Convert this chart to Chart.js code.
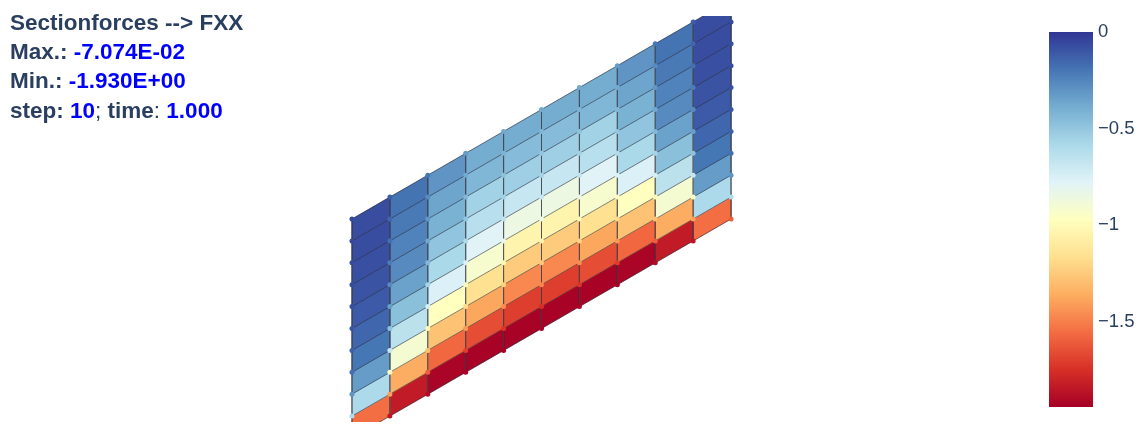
<!DOCTYPE html>
<html>
<head>
<meta charset="utf-8">
<title>Sectionforces FXX</title>
<script src="https://cdn.jsdelivr.net/npm/chart.js@4/dist/chart.umd.min.js"></script>
<style>
  html, body { margin: 0; padding: 0; background: #fff; overflow: hidden; }
  #wrap { position: relative; width: 1137px; height: 430px; }
  canvas { position: absolute; }
  #mesh { left: 0; top: 0; }
  #bar { left: 1040px; top: 16px; }
  #info {
    position: absolute; left: 10px; top: 8px;
    font: bold 22.5px/29.2px "Liberation Sans", Arial, sans-serif;
    color: #2a3f5f; white-space: nowrap;
  }
  #info span { color: #0000ff; }
  #info i { font-style: normal; font-weight: normal; }
</style>
</head>
<body>
<div id="wrap">
  <canvas id="mesh" width="1137" height="430"></canvas>
  <canvas id="bar" width="97" height="407"></canvas>
  <div id="info">
    Sectionforces --&gt; FXX<br>
    Max.: <span>-7.074E-02</span><br>
    Min.: <span>-1.930E+00</span><br>
    step: <span>10</span><i>;</i> time<i>:</i> <span>1.000</span>
  </div>
</div>
<script>
// mesh columns and rows (node numbers)
var columns = [0, 1, 2, 3, 4, 5, 6, 7, 8, 9, 10];
var rows = [0, 1, 2, 3, 4, 5, 6, 7, 8, 9, 10];

// FXX per cell, one array per cell column, top row first
var cellCol0 = [-0.07, -0.07, -0.08, -0.09, -0.11, -0.15, -0.20, -0.33, -0.59, -1.55];
var cellCol1 = [-0.19, -0.21, -0.24, -0.27, -0.35, -0.47, -0.64, -0.91, -1.36, -1.83];
var cellCol2 = [-0.30, -0.36, -0.41, -0.49, -0.58, -0.76, -0.97, -1.28, -1.57, -1.92];
var cellCol3 = [-0.39, -0.43, -0.55, -0.63, -0.78, -0.92, -1.16, -1.38, -1.65, -1.93];
var cellCol4 = [-0.39, -0.45, -0.54, -0.68, -0.85, -1.04, -1.25, -1.47, -1.70, -1.93];
var cellCol5 = [-0.39, -0.45, -0.54, -0.68, -0.85, -1.04, -1.25, -1.47, -1.70, -1.93];
var cellCol6 = [-0.39, -0.43, -0.55, -0.63, -0.78, -0.92, -1.16, -1.38, -1.65, -1.93];
var cellCol7 = [-0.30, -0.36, -0.41, -0.49, -0.58, -0.76, -0.97, -1.28, -1.57, -1.92];
var cellCol8 = [-0.19, -0.21, -0.24, -0.27, -0.35, -0.47, -0.64, -0.91, -1.36, -1.83];
var cellCol9 = [-0.07, -0.07, -0.08, -0.09, -0.11, -0.15, -0.20, -0.33, -0.59, -1.55];
var cellValues = [cellCol0, cellCol1, cellCol2, cellCol3, cellCol4, cellCol5, cellCol6, cellCol7, cellCol8, cellCol9];

// FXX per node, one array per node column, top row first
var nodeCol0 = [-0.06, -0.06, -0.07, -0.07, -0.08, -0.10, -0.13, -0.18, -0.30, -0.60, -1.60];
var nodeCol1 = [-0.12, -0.15, -0.18, -0.22, -0.27, -0.34, -0.48, -0.69, -0.95, -1.40, -1.85];
var nodeCol2 = [-0.20, -0.27, -0.31, -0.37, -0.44, -0.56, -0.74, -1.00, -1.28, -1.60, -1.90];
var nodeCol3 = [-0.33, -0.38, -0.43, -0.50, -0.60, -0.76, -0.95, -1.18, -1.42, -1.70, -1.93];
var nodeCol4 = [-0.37, -0.42, -0.48, -0.55, -0.66, -0.84, -1.02, -1.22, -1.46, -1.73, -1.93];
var nodeCol5 = [-0.38, -0.43, -0.50, -0.56, -0.68, -0.85, -1.05, -1.26, -1.48, -1.75, -1.93];
var nodeCol6 = [-0.37, -0.42, -0.48, -0.55, -0.66, -0.84, -1.02, -1.22, -1.46, -1.73, -1.93];
var nodeCol7 = [-0.33, -0.38, -0.43, -0.50, -0.60, -0.76, -0.95, -1.18, -1.42, -1.70, -1.93];
var nodeCol8 = [-0.20, -0.27, -0.31, -0.37, -0.44, -0.56, -0.74, -1.00, -1.28, -1.60, -1.90];
var nodeCol9 = [-0.12, -0.15, -0.18, -0.22, -0.27, -0.34, -0.48, -0.69, -0.95, -1.40, -1.85];
var nodeCol10 = [-0.06, -0.06, -0.07, -0.07, -0.08, -0.10, -0.13, -0.18, -0.30, -0.60, -1.60];
var nodeValues = [nodeCol0, nodeCol1, nodeCol2, nodeCol3, nodeCol4, nodeCol5, nodeCol6, nodeCol7, nodeCol8, nodeCol9, nodeCol10];

// colour bar
var colorMin = -1.94;
var colorMax = 0;
var barTicks = [0, -0.5, -1, -1.5];
var barTickLabels = ['0', '\u22120.5', '\u22121', '\u22121.5'];
var scaleColors = [
  [165, 0, 38], [215, 48, 39], [244, 109, 67], [253, 174, 97], [254, 224, 144], [255, 255, 191],
  [224, 243, 248], [171, 217, 233], [116, 173, 209], [69, 117, 180], [49, 54, 149]
];

function colorOf(value) {
  var t = (value - colorMin) / (colorMax - colorMin) * (scaleColors.length - 1);
  var i = Math.max(0, Math.min(scaleColors.length - 2, Math.floor(t)));
  var f = t - i;
  var a = scaleColors[i];
  var b = scaleColors[i + 1];
  return 'rgb(' + [0, 1, 2].map(function(k) {
    return Math.round(a[k] + (b[k] - a[k]) * f);
  }).join(',') + ')';
}

// the mesh is sheared: every column sits one row higher than the one before it
function node(col, row) {
  return { x: columns[col], y: columns[col] - rows[row] };
}

var datasets = [];

// grid lines along the rows carry the node markers
rows.forEach(function(row, r) {
  datasets.push({
    data: columns.map(function(col, c) { return node(c, r); }),
    showLine: true,
    borderColor: 'rgba(35,35,45,0.7)',
    borderWidth: 0.8,
    pointRadius: 2.5,
    pointBorderWidth: 0,
    pointBackgroundColor: columns.map(function(col, c) { return colorOf(nodeValues[c][r]); }),
    clip: 0,
    order: 1
  });
});

// grid lines along the columns
columns.forEach(function(col, c) {
  datasets.push({
    data: rows.map(function(row, r) { return node(c, r); }),
    showLine: true,
    borderColor: 'rgba(60,60,70,0.5)',
    borderWidth: 1,
    pointRadius: 0,
    clip: 0,
    order: 2
  });
});

// filled cells
cellValues.forEach(function(colValues, c) {
  colValues.forEach(function(value, r) {
    datasets.push({
      data: [node(c, r), node(c + 1, r), node(c + 1, r + 1), node(c, r + 1), node(c, r)],
      showLine: true,
      fill: 'shape',
      backgroundColor: colorOf(value),
      borderColor: colorOf(value),
      borderWidth: 0.5,
      pointRadius: 0,
      clip: 0,
      order: 3
    });
  });
});

new Chart(document.getElementById('mesh'), {
  type: 'scatter',
  data: { datasets: datasets },
  options: {
    responsive: false,
    animation: false,
    layout: { padding: { left: 333, right: 387, top: 16, bottom: 8 } },
    plugins: { legend: { display: false }, tooltip: { enabled: false } },
    scales: {
      x: { type: 'linear', display: false, min: -0.5, max: 10.5 },
      y: { type: 'linear', display: false, min: -9.27, max: 9.27 }
    }
  }
});

new Chart(document.getElementById('bar'), {
  type: 'bar',
  data: {
    labels: ['FXX'],
    datasets: [{
      data: [[colorMin, colorMax]],
      barPercentage: 1,
      categoryPercentage: 1,
      borderSkipped: false,
      backgroundColor: function(context) {
        var chart = context.chart;
        if (!chart.chartArea) return 'rgb(165,0,38)';
        var y = chart.scales.y;
        var grad = chart.ctx.createLinearGradient(0, y.getPixelForValue(colorMin), 0, y.getPixelForValue(colorMax));
        scaleColors.forEach(function(c, i) {
          grad.addColorStop(i / (scaleColors.length - 1), 'rgb(' + c.join(',') + ')');
        });
        return grad;
      }
    }]
  },
  options: {
    responsive: false,
    animation: false,
    layout: { padding: { left: 9, top: 0, bottom: 0, right: 0 } },
    plugins: { legend: { display: false }, tooltip: { enabled: false } },
    scales: {
      x: { display: false },
      y: {
        position: 'right',
        min: colorMin,
        max: colorMax,
        grid: { display: false, drawTicks: false },
        border: { display: false },
        afterBuildTicks: function(scale) {
          scale.ticks = barTicks.map(function(v) { return { value: v }; });
        },
        afterFit: function(scale) { scale.width = 44; },
        ticks: {
          autoSkip: false,
          padding: 5,
          color: '#2a3f5f',
          font: { family: '"Liberation Sans", Arial, sans-serif', size: 18.5 },
          callback: function(value) { return barTickLabels[barTicks.indexOf(value)]; }
        }
      }
    }
  }
});
</script>
</body>
</html>
